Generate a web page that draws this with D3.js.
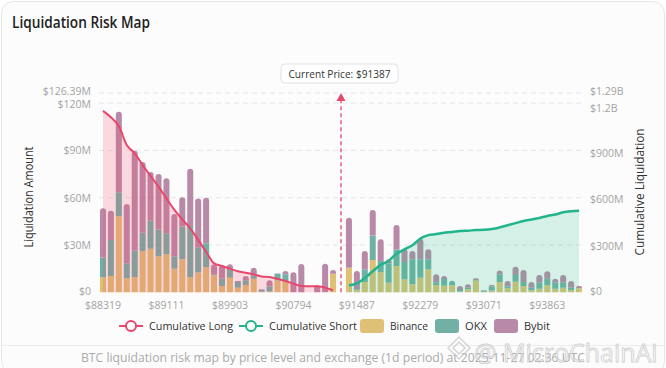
<!DOCTYPE html>
<html><head><meta charset="utf-8">
<script src="https://cdn.jsdelivr.net/npm/d3@7/dist/d3.min.js"></script>
<style>html,body{margin:0;padding:0;background:#fff;}svg{display:block;font-family:"Open Sans","Noto Sans",sans-serif;}</style>
</head><body><svg id="chart" width="666" height="368"></svg>
<script>
// ---------- DATA ----------
const prices = [88319,88418,88517,88616,88715,88814,88913,89012,89111,89210,89309,89408,89507,89606,89705,89804,
  89903,90002,90101,90200,90299,90398,90497,90596,90794,90893,90992,91091,91190,91289,91387,91388,
  91487,91586,91685,91784,91883,91982,92081,92180,92279,92378,92477,92576,92675,92774,92873,92972,
  93071,93170,93269,93368,93467,93566,93665,93764,93863,93962,94061,94160,94259];
const binance = [9.5,10.3,48.2,8.9,9.7,26.0,27.6,22.8,24.1,15.0,20.9,9.5,12.5,15.9,10.8,4.0,
  9.3,2.9,4.6,8.6,0.4,0.5,7.5,7.0,0,0,0,0,0,11.7,0,15.6,
  1.5,6.5,20.5,12.9,6.1,16.7,8.2,5.1,9.3,14.6,4.6,4.2,4.4,0.5,1.9,7.4,
  0.3,1.2,6.5,2.5,6.7,4.0,1.3,2.3,4.4,2.3,2.9,1.5,2.5];
const okx = [12.5,22.9,15.2,9.5,16.7,11.8,17.8,17.1,13.3,7.8,20.9,32.5,16.0,15.2,0.7,4.6,
  5.7,3.6,3.0,2.2,1.2,3.1,4.3,4.5,0,0,0,0,0,0,0,0,
  0.5,8.1,15.6,6.9,12.4,10.6,11.0,15.8,11.6,6.3,1.7,4.2,3.0,1.0,1.0,0.3,
  0.7,2.4,4.9,1.1,4.3,2.5,1.6,3.8,4.2,3.8,3.2,1.4,0.3];
const bybit = [31.3,18.5,51.1,37.6,63.4,44.8,30.9,35.1,34.9,26.9,18.4,36.4,31.0,28.9,6.3,8.5,
  2.8,0.7,2.7,4.8,0.4,4.0,0.2,2.0,12.7,17.9,0,4.5,18.1,2.4,0,31.7,
  11.5,11.6,16.1,13.8,2.4,15.4,8.4,5.3,13.1,6.4,5.1,1.9,0,2.5,2.2,1.2,
  0.3,1.0,2.5,3.6,5.2,7.6,3.6,4.9,4.7,2.5,4.9,4.3,1.2];
const cumulativeLong = [1174,1133,1076,953,900,824,753,684,608,533,472,414,339,263,188,170,
  153,136,127,116,103,99,88,73,56,41,39,39,30,13,null,null,
  null,null,null,null,null,null,null,null,null,null,null,null,null,null,null,null,
  null,null,null,null,null,null,null,null,null,null,null,null,null];
const cumulativeShort = [null,null,null,null,null,null,null,null,null,null,null,null,null,null,null,null,
  null,null,null,null,null,null,null,null,null,null,null,null,null,null,null,45,
  58,92,136,178,203,250,278,304,348,370,377,386,390,396,399,403,
  405,410,420,434,448,462,471,481,494,503,518,525,528];
const leftTicks = [0,30,60,90,120,126.39];
const leftTickLabels = ["$0","$30M","$60M","$90M","$120M","$126.39M"];
const rightTicks = [0,300,600,900,1200,1290];
const rightTickLabels = ["$0","$300M","$600M","$900M","$1.2B","$1.29B"];
const xLabelStep = 8;
const currentPrice = 91387;
const currentIndex = 30;
const exchanges = ["Binance","OKX","Bybit"];
const exchangeColors = ["#dfc075","#71b0a4","#b98aa7"];
const longColor = "#e8466b", shortColor = "#22b48c";

// ---------- LAYOUT ----------
const svg = d3.select("#chart");
const plot = {left:99, right:583, top:93, bottom:292.3};
const idx = d3.range(prices.length);
const x = d3.scaleBand().domain(idx).range([plot.left, plot.right]).paddingInner(0.24).paddingOuter(0.12);
const cx = i => x(i) + x.bandwidth()/2;
const yL = d3.scaleLinear().domain([0, leftTicks[leftTicks.length-1]]).range([plot.bottom, plot.top]);
const yR = d3.scaleLinear().domain([0, rightTicks[rightTicks.length-1]]).range([plot.bottom, plot.top]);

// card
svg.append("rect").attr("x",1.5).attr("y",1.5).attr("width",663).attr("height",372).attr("rx",12)
  .attr("fill","#fcfcfc").attr("stroke","#e6e6e6");

// title
svg.append("text").attr("x",12).attr("y",28).attr("font-size",15.5).attr("font-weight",600)
  .attr("fill","#222").attr("textLength",138).attr("lengthAdjust","spacingAndGlyphs").text("Liquidation Risk Map");

// gridlines
svg.append("g").selectAll("line").data(leftTicks.filter(t=>t>0)).join("line")
  .attr("x1",plot.left).attr("x2",plot.right+2).attr("y1",d=>yL(d)).attr("y2",d=>yL(d))
  .attr("stroke","#e4e4e4").attr("stroke-dasharray","5,4");

// axes
const tickFont = 10.5;
function styleTicks(ax){
  ax.select(".domain").remove();
  ax.selectAll("text").attr("font-size",tickFont).attr("fill","#a3a3a3").attr("font-family","Open Sans");
}
const axL = svg.append("g").attr("transform",`translate(${plot.left-8},0)`)
  .call(d3.axisLeft(yL).tickValues(leftTicks).tickSize(0).tickPadding(0).tickFormat((d,i)=>leftTickLabels[i]));
styleTicks(axL);
const axR = svg.append("g").attr("transform",`translate(${plot.right+7},0)`)
  .call(d3.axisRight(yR).tickValues(rightTicks).tickSize(0).tickPadding(0).tickFormat((d,i)=>rightTickLabels[i]));
styleTicks(axR);
[axL, axR].forEach(ax => {
  ax.selectAll(".tick").filter(d=>d===0).select("text").attr("dy","0.2em");
  const ts = ax.selectAll(".tick").nodes();
  d3.select(ts[ts.length-1]).select("text").attr("dy","0.15em");
  d3.select(ts[ts.length-2]).select("text").attr("dy","0.42em");
});
const axX = svg.append("g").attr("transform",`translate(0,${plot.bottom})`)
  .call(d3.axisBottom(x).tickValues(idx.filter(i=>i%xLabelStep===0)).tickSize(0).tickPadding(9).tickFormat(i=>"$"+prices[i]));
styleTicks(axX);

// axis titles
svg.append("text").attr("transform","translate(33,197) rotate(-90)").attr("text-anchor","middle")
  .attr("font-size",12).attr("fill","#333").attr("textLength",101).attr("lengthAdjust","spacingAndGlyphs").text("Liquidation Amount");
svg.append("text").attr("transform","translate(644,192) rotate(-90)").attr("text-anchor","middle")
  .attr("font-size",12).attr("fill","#333").attr("textLength",127).attr("lengthAdjust","spacingAndGlyphs").text("Cumulative Liquidation");

// stacked bars
const rows = idx.map(i => ({i, Binance:binance[i], OKX:okx[i], Bybit:bybit[i]}));
const stack = d3.stack().keys(exchanges)(rows);
const topKey = rows.map(r => { let k=-1; exchanges.forEach((e,j)=>{ if(r[e]>0) k=j; }); return k; });
const bw = x.bandwidth();
function segPath(i, y0v, y1v, rounded){
  const x0 = x(i), x1 = x0+bw, yb = yL(y0v), yt = yL(y1v);
  const r = rounded ? Math.min(3, bw/2, (yb-yt)) : 0;
  return `M${x0},${yb}L${x0},${yt+r}Q${x0},${yt} ${x0+r},${yt}L${x1-r},${yt}Q${x1},${yt} ${x1},${yt+r}L${x1},${yb}Z`;
}
const gBars = svg.append("g");
stack.forEach((layer, j) => {
  gBars.append("g").attr("fill", exchangeColors[j]).selectAll("path")
    .data(layer.filter(d => d[1]-d[0] > 0)).join("path")
    .attr("d", d => segPath(d.data.i, d[0], d[1], topKey[d.data.i]===j));
});

// areas over bars
const areaL = d3.area().defined(d=>d.v!=null).x(d=>cx(d.i)).y0(plot.bottom).y1(d=>yR(d.v)).curve(d3.curveMonotoneX);
const lineL = d3.line().defined(d=>d.v!=null).x(d=>cx(d.i)).y(d=>yR(d.v)).curve(d3.curveMonotoneX);
const longPts = idx.map(i=>({i, v:cumulativeLong[i]}));
const shortPts = idx.map(i=>({i, v:cumulativeShort[i]}));
svg.append("path").attr("d",areaL(longPts)).attr("fill","rgba(240,80,110,0.2)");
svg.append("path").attr("d",areaL(shortPts)).attr("fill","rgba(40,195,140,0.18)");
svg.append("path").attr("d",lineL(longPts)).attr("fill","none").attr("stroke",longColor).attr("stroke-width",2);
svg.append("path").attr("d",lineL(shortPts)).attr("fill","none").attr("stroke",shortColor).attr("stroke-width",2.5);

// current price marker
const px = cx(currentIndex);
svg.append("line").attr("x1",px).attr("x2",px).attr("y1",plot.bottom).attr("y2",plot.top+6)
  .attr("stroke",longColor).attr("stroke-width",1.3).attr("stroke-dasharray","4,3");
svg.append("path").attr("d",`M${px},${plot.top}L${px+4.5},${plot.top+8}L${px-4.5},${plot.top+8}Z`).attr("fill",longColor);
const lbl = svg.append("g");
lbl.append("rect").attr("x",px-60).attr("y",64).attr("width",117).attr("height",19).attr("rx",4)
  .attr("fill","#fff").attr("stroke","#e2e2e2");
lbl.append("text").attr("x",px-1.5).attr("y",77.5).attr("text-anchor","middle").attr("font-size",11)
  .attr("fill","#333").attr("textLength",102).attr("lengthAdjust","spacingAndGlyphs").text("Current Price: $"+currentPrice);

// legend
const lg = svg.append("g");
const ly = 326;
[["Cumulative Long",longColor,119,149,84],["Cumulative Short",shortColor,239,269,88]].forEach(([t,c,x0,tx,tl])=>{
  lg.append("line").attr("x1",x0).attr("x2",x0+24).attr("y1",ly).attr("y2",ly).attr("stroke",c).attr("stroke-width",2);
  lg.append("circle").attr("cx",x0+12).attr("cy",ly).attr("r",5).attr("fill","#fff").attr("stroke",c).attr("stroke-width",2);
  lg.append("text").attr("x",tx).attr("y",ly+4).attr("font-size",11.5).attr("fill","#333")
    .attr("textLength",tl).attr("lengthAdjust","spacingAndGlyphs").text(t);
});
[[0,360,390,38],[1,435,465,22],[2,494,524,26]].forEach(([j,x0,tx,tl])=>{
  lg.append("rect").attr("x",x0).attr("y",ly-7).attr("width",24).attr("height",14).attr("rx",3).attr("fill",exchangeColors[j]);
  lg.append("text").attr("x",tx).attr("y",ly+4).attr("font-size",11.5).attr("fill","#333")
    .attr("textLength",tl).attr("lengthAdjust","spacingAndGlyphs").text(exchanges[j]);
});

// separator + footer
svg.append("line").attr("x1",2).attr("x2",664).attr("y1",345.5).attr("y2",345.5).attr("stroke","#ececec");
svg.append("text").attr("x",333).attr("y",362).attr("text-anchor","middle").attr("font-size",12).attr("fill","#aaa")
  .attr("textLength",504).attr("lengthAdjust","spacingAndGlyphs")
  .text("BTC liquidation risk map by price level and exchange (1d period) at 2025-11-27 02:36 UTC");

// watermark
const wm = svg.append("g").attr("opacity",0.75);
wm.append("path").attr("d","M459,337 L470,348 L459,359 L448,348 Z M459,342 L465,348 L459,354 L453,348 Z")
  .attr("fill","none").attr("stroke","#c9c9c9").attr("stroke-width",1.5);
wm.append("text").attr("x",474).attr("y",362).attr("font-size",25).attr("fill","rgba(255,255,255,0.5)")
  .attr("stroke","#c4c4c4").attr("stroke-width",0.9).text("@ MicroChainAi");
</script></body></html>
